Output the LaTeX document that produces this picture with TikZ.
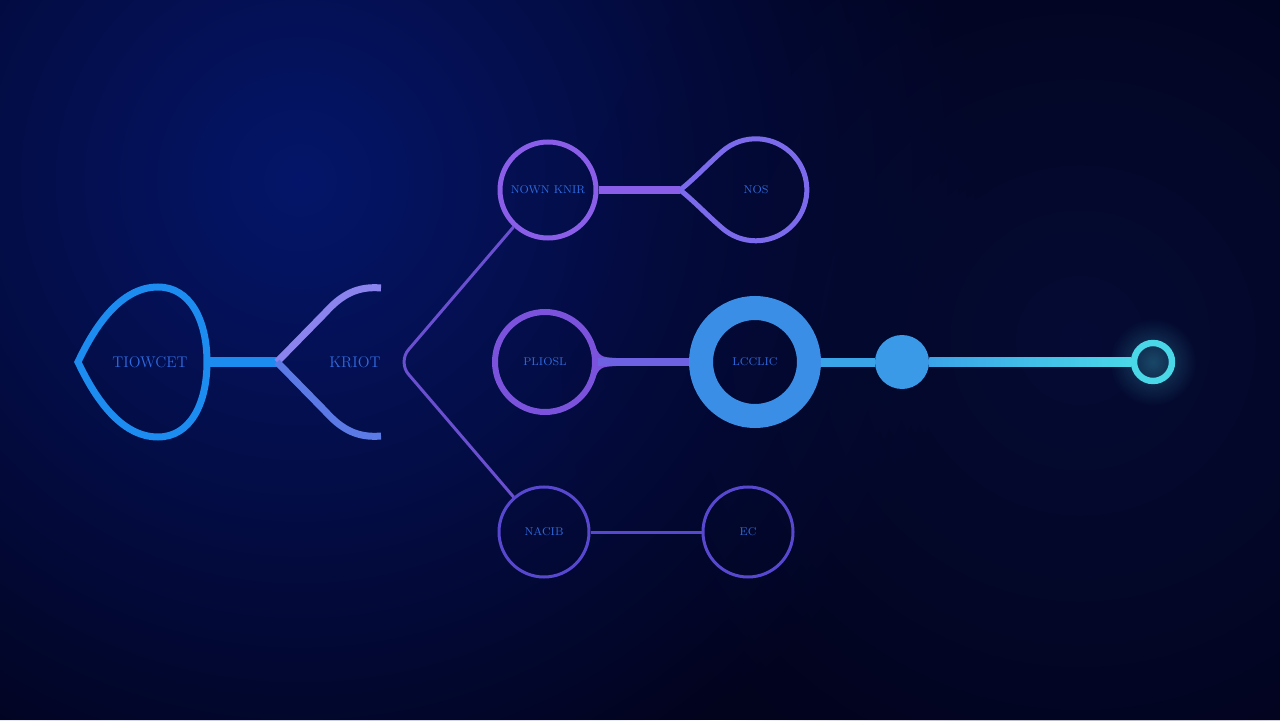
\documentclass[tikz,border=0pt]{standalone}
\usetikzlibrary{positioning, calc, fadings}

\definecolor{bg_dark}{HTML}{02031C}
\definecolor{bg_glow}{HTML}{05166A}
\definecolor{bg_glow_right}{HTML}{050B34}
\definecolor{label_blue}{HTML}{2F6AE0}
\definecolor{tow_blue}{HTML}{1C8CF0}
\definecolor{kr_upper}{HTML}{8C84EE}
\definecolor{kr_lower}{HTML}{5C7AE6}
\definecolor{fork_purple}{HTML}{6A4FD0}
\definecolor{nown_purple}{HTML}{8A5EE8}
\definecolor{nos_purple}{HTML}{7C6AEC}
\definecolor{plio_purple}{HTML}{7A52DC}
\definecolor{plio_link}{HTML}{6E62E2}
\definecolor{ring_blue}{HTML}{3A8EE6}
\definecolor{line_blue}{HTML}{3AA4E8}
\definecolor{end_cyan}{HTML}{4AD8E8}
\definecolor{dot_blue}{HTML}{3A9AE8}
\definecolor{thin_purple}{HTML}{5848D0}

\tikzfading[name=glow_fade, inner color=transparent!0, outer color=transparent!100]

\begin{document}
\begin{tikzpicture}
    [
        x=0.25mm, y=0.25mm, on grid, inner sep=0pt,
        label_text/.style={text=label_blue, font=\fontsize{8}{9}\selectfont},
        big_text/.style={text=label_blue, font=\fontsize{11}{12}\selectfont},
        purple_node/.style={circle, draw=nown_purple, line width=1.25mm, minimum size=24mm, label_text},
        nos_node/.style={circle, minimum size=25.5mm, label_text},
        plio_node/.style={circle, draw=plio_purple, line width=1.5mm, minimum size=25mm, label_text},
        ring_node/.style={circle, draw=ring_blue, line width=6mm, minimum size=27mm, label_text},
        dot_node/.style={circle, fill=dot_blue, minimum size=13.5mm},
        end_node/.style={circle, draw=end_cyan, line width=1.6mm, minimum size=9.5mm},
        thin_node/.style={circle, draw=thin_purple, line width=0.75mm, minimum size=22.5mm, label_text},
    ]
        % background
        \useasboundingbox (0,0) rectangle (1280,720);
        \begin{scope}
            \clip (0,0) rectangle (1280,720);
            \fill[bg_dark] (0,0) rectangle (1280,720);
            \fill[bg_glow, path fading=glow_fade] (300,540) circle[radius=170mm];
            \fill[bg_glow_right, path fading=glow_fade] (1080,380) circle[radius=130mm];
        \end{scope}
        \coordinate (endpos) at (1153,358);
        \fill[end_cyan, opacity=0.3, path fading=glow_fade] (endpos) circle[radius=11mm];

        % nodes
        \node[big_text] (tiowcet) at (150,358) {TIOWCET};
        \coordinate (tiowtip) at (78,358);
        \coordinate (tiowedge) at (207,358);
        \node[big_text] (kriot) at (355,358) {KRIOT};
        \coordinate (krjoin) at (277,358);
        \coordinate (fork) at (398,358);
        \node[purple_node] (nown) at (548,530) {NOWN KNIR};
        \node[nos_node] (nos) [right = 52mm of nown] {NOS};
        \coordinate (nostip) at (680,530);
        \node[plio_node] (pliosl) at (545,358) {PLIOSL};
        \node[ring_node] (lcclic) [right = 52.5mm of pliosl] {LCCLIC};
        \node[dot_node] (dot) [right = 36.75mm of lcclic] {};
        \node[end_node] (endring) at (endpos) {};
        \node[thin_node] (nacib) at (544,188) {NACIB};
        \node[thin_node] (ec) [right = 51mm of nacib] {EC};

        % outlines
        \draw[line width=1.75mm, tow_blue] (tiowtip) .. controls (94,392) and (120,433) .. (158,433) .. controls (190,433) and (207,400) .. (tiowedge) .. controls (207,316) and (190,283) .. (158,283) .. controls (120,283) and (94,324) .. (tiowtip) -- cycle;
        \draw[line width=1.25mm, nos_purple] (nostip) .. controls (693,540) and (708,556) .. (nos.132) arc[start angle=132, end angle=-132, radius=12.75mm] .. controls (708,504) and (693,520) .. (nostip) -- cycle;
        \fill[plio_purple] ($(pliosl.center)+(22:13mm)$) .. controls (600,363) .. (616,362) -- (616,354) .. controls (600,353) .. ($(pliosl.center)+(-22:13mm)$) -- cycle;

        % connectors
        \draw[line width=2.5mm, tow_blue] (tiowedge) -- (krjoin);
        \draw[line width=1.75mm, kr_upper] (krjoin) -- (325,407) .. controls (342,426) and (358,434) .. (381,432);
        \draw[line width=1.75mm, kr_lower] (krjoin) -- (325,309) .. controls (342,290) and (358,282) .. (381,284);
        \draw[line width=0.75mm, fork_purple, rounded corners=4mm] (nown.227) -- (fork) -- (nacib.131);
        \draw[line width=2mm, nown_purple] (nown.east) -- (nostip);
        \draw[line width=2mm, plio_link] (pliosl.east) -- (lcclic.west);
        \draw[line width=2.25mm, line_blue] (lcclic.east) -- (dot.west);
        \draw[line width=2.25mm, line_blue] (dot.east) -- (endring.west);
        \shade[left color=line_blue, right color=end_cyan] ($(dot.east)+(0,-4.5)$) rectangle ($(endring.west)+(0,4.5)$);
        \draw[line width=0.75mm, thin_purple] (nacib) -- (ec);
    \end{tikzpicture}
\end{document}
